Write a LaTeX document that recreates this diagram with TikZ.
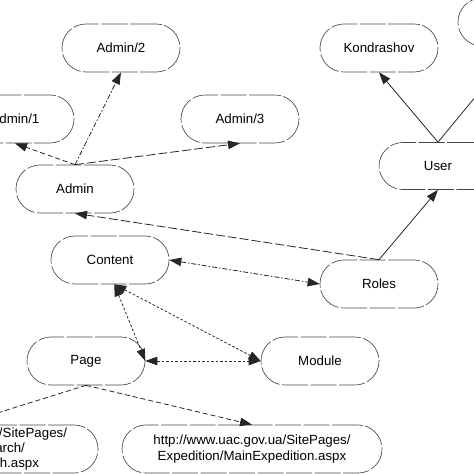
\documentclass[tikz,border=0pt]{standalone}
\usepackage{fontspec}
\setmainfont{Liberation Sans}
\usetikzlibrary{arrows.meta}
\tikzset{
  box/.style={draw=black!72, line width=0.65pt, dash pattern=on 26pt off 2.5pt,
    rounded corners=23.9pt, minimum width=118pt, minimum height=48pt,
    inner sep=0pt, align=center, font=\fontsize{13.3}{15.5}\selectfont},
  conn/.style={line width=0.8pt, draw=black!85},
  arr/.style={conn, -{Triangle[length=12pt,width=8.5pt]}},
  arrtwo/.style={conn, {Triangle[length=12pt,width=8.5pt]}-{Triangle[length=12pt,width=8.5pt]}},
  shortdash/.style={dash pattern=on 5pt off 3pt},
  longdash/.style={dash pattern=on 9pt off 3pt},
  dashdotline/.style={dash pattern=on 5pt off 2pt on 1.5pt off 2pt},
  dotline/.style={dash pattern=on 2.5pt off 2pt},
}
\begin{document}
\begin{tikzpicture}[x=1pt,y=-1pt]
\useasboundingbox (0,0) rectangle (474,474);
\clip (0,0) rectangle (474,474);
\node[box] (admin2) at (121,48) {Admin/2};
\node[box] (admin1) at (15,119) {Admin/1};
\node[box] (admin3) at (240,119) {Admin/3};
\node[box] (admin) at (75,189) {Admin};
\node[box] (content) at (110,260) {Content};
\node[box] (roles) at (379,284) {Roles};
\node[box] (page) at (86,361) {Page};
\node[box] (module) at (320,361) {Module};
\node[box] (kond) at (379,48) {Kondrashov};
\node[box, minimum height=47pt] (user) at (438,166) {User};
\node[box] (other) at (517,22) {};
\node[box, minimum width=192pt, font=\fontsize{13.3}{15}\selectfont] (urlL) at (2,449)
  {\makebox[130pt][r]{http://www.uac.gov.ua/SitePages/}\\Search/\\Search.aspx};
\node[box, minimum width=260pt, font=\fontsize{13.3}{16}\selectfont] (urlM) at (252,449)
  {http://www.uac.gov.ua/SitePages/\\Expedition/MainExpedition.aspx};

\draw[arr, shortdash] (admin.north) -- (admin1.south);
\draw[arr, dashdotline] (admin.north) -- (admin2.south);
\draw[arr, longdash] (admin.north) -- (admin3.south);
\draw[arr, longdash] (roles.north) -- (admin.south);
\draw[arr] (roles.north) -- (user.south);
\draw[arr] (user.north) -- (kond.south);
\draw[arr] (user.north) -- (other.south);
\draw[arrtwo, dashdotline] (content.east) -- (roles.west);
\draw[arrtwo, dotline] (content.-80) -- (page.east);
\draw[arrtwo, dotline] (content.-80) -- (module.west);
\draw[arrtwo, dotline] (page.east) -- (module.west);
\draw[arr, shortdash] (page.south) -- (urlM.north);
\draw[arr, shortdash] (page.south) -- (urlL.150);
\end{tikzpicture}
\end{document}
